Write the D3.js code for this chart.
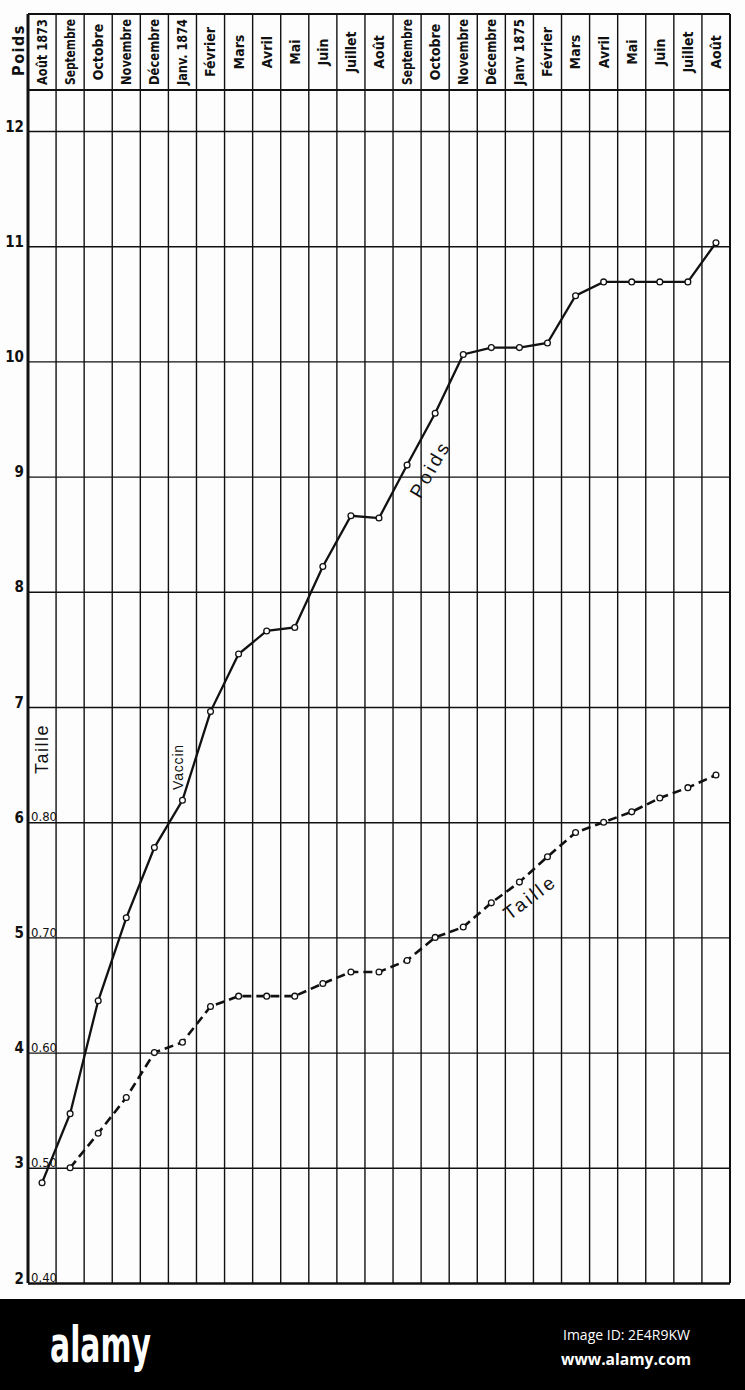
<!DOCTYPE html>
<html>
<head>
<meta charset="utf-8">
<script src="https://cdn.jsdelivr.net/npm/d3@7"></script>
<style>
  body { margin: 0; background: #fff; }
  svg { display: block; }
</style>
</head>
<body>
<div id="chart"></div>
<script>
// ---- DATA ----
const months = ["Août 1873", "Septembre", "Octobre", "Novembre", "Décembre", "Janv. 1874",
  "Février", "Mars", "Avril", "Mai", "Juin", "Juillet", "Août", "Septembre", "Octobre",
  "Novembre", "Décembre", "Janv 1875", "Février", "Mars", "Avril", "Mai", "Juin", "Juillet", "Août"];

// weight (kg), one value per month
const poids = [2.87, 3.47, 4.45, 5.17, 5.78, 6.19, 6.96, 7.46, 7.66, 7.69, 8.22, 8.66, 8.64,
  9.10, 9.55, 10.06, 10.12, 10.12, 10.16, 10.57, 10.69, 10.69, 10.69, 10.69, 11.03];

// height (m), starts in Septembre 1873
const taille = [null, 0.500, 0.530, 0.561, 0.600, 0.609, 0.640, 0.649, 0.649, 0.649, 0.660,
  0.670, 0.670, 0.680, 0.700, 0.709, 0.730, 0.748, 0.770, 0.791, 0.800, 0.809, 0.821, 0.830, 0.841];

const poidsTicks = [2, 3, 4, 5, 6, 7, 8, 9, 10, 11, 12];
const tailleTicks = [0.40, 0.50, 0.60, 0.70, 0.80];

// ---- LAYOUT ----
const width = 745, height = 1390;
const left = 28, right = 730;
const headerTop = 14, headerBottom = 90;
const plotTop = 131, plotBottom = 1283;
const narrow = "'DejaVu Sans Condensed', 'Liberation Sans Narrow', sans-serif";

const svg = d3.select("#chart").append("svg")
  .attr("width", width)
  .attr("height", height)
  .style("background", "#fdfdfd");

// ---- SCALES ----
const x = d3.scaleBand()
  .domain(d3.range(months.length))
  .range([left, right])
  .padding(0);

const y = d3.scaleLinear().domain([2, 12]).range([plotBottom, plotTop]);
const yT = d3.scaleLinear().domain([0.40, 1.40]).range([plotBottom, plotTop]);

const cx = i => x(i) + x.bandwidth() / 2;

// ---- GRID: vertical month lines ----
const bounds = months.map((m, i) => x(i)).concat([x.range()[1]]);
svg.append("g").selectAll("line")
  .data(bounds)
  .enter().append("line")
  .attr("x1", d => d).attr("x2", d => d)
  .attr("y1", headerTop).attr("y2", plotBottom)
  .attr("stroke", "#111")
  .attr("stroke-width", (d, i) => i === 0 ? 3 : (i === bounds.length - 1 ? 2 : 1.4));

// header lines
[headerTop, headerBottom].forEach(v => {
  svg.append("line")
    .attr("x1", left).attr("x2", right)
    .attr("y1", v).attr("y2", v)
    .attr("stroke", "#111").attr("stroke-width", 2);
});

// ---- AXES ----
const yAxis = svg.append("g")
  .attr("transform", `translate(${left},0)`)
  .call(d3.axisLeft(y).tickValues(poidsTicks).tickFormat(d3.format("d"))
    .tickSizeInner(-(right - left)).tickSizeOuter(0).tickPadding(4));
yAxis.select(".domain").remove();
yAxis.selectAll(".tick line")
  .attr("stroke", "#111")
  .attr("stroke-width", d => d === 2 ? 2.5 : 1.4);
yAxis.selectAll(".tick text")
  .attr("dy", "0em")
  .attr("fill", "#111")
  .style("font-family", narrow)
  .style("font-weight", "bold")
  .style("font-size", "15px");

const tAxis = svg.append("g")
  .attr("transform", `translate(${left + 2},0)`)
  .call(d3.axisRight(yT).tickValues(tailleTicks).tickFormat(d3.format(".2f"))
    .tickSize(0).tickPadding(1));
tAxis.select(".domain").remove();
tAxis.selectAll(".tick text")
  .attr("dy", "-0.1em")
  .attr("fill", "#111")
  .style("font-family", narrow)
  .style("font-size", "13px");

const xAxis = svg.append("g")
  .attr("transform", `translate(0,${headerBottom})`)
  .call(d3.axisTop(x).tickFormat(i => months[i]).tickSize(0));
xAxis.select(".domain").remove();
xAxis.selectAll(".tick text")
  .attr("x", 0).attr("y", 0)
  .attr("dy", "0.35em")
  .attr("transform", `translate(0,${(headerTop - headerBottom) / 2}) rotate(-90)`)
  .attr("text-anchor", "middle")
  .attr("fill", "#111")
  .style("font-family", narrow)
  .style("font-weight", "bold")
  .style("font-size", "14px")
  .each(function () {
    // keep long month names inside the header cell
    if (this.getComputedTextLength() > 66) {
      d3.select(this).attr("textLength", 66).attr("lengthAdjust", "spacingAndGlyphs");
    }
  });

// ---- LINES ----
const poidsLine = d3.line()
  .x((d, i) => cx(i))
  .y(d => y(d));

svg.append("path")
  .datum(poids)
  .attr("d", poidsLine)
  .attr("fill", "none")
  .attr("stroke", "#111")
  .attr("stroke-width", 2.3);

const tailleLine = d3.line()
  .defined(d => d !== null)
  .x((d, i) => cx(i))
  .y(d => yT(d));

svg.append("path")
  .datum(taille)
  .attr("d", tailleLine)
  .attr("fill", "none")
  .attr("stroke", "#111")
  .attr("stroke-width", 2.6)
  .attr("stroke-dasharray", "9,5");

// ---- POINTS ----
svg.append("g").selectAll("circle")
  .data(poids)
  .enter().append("circle")
  .attr("cx", (d, i) => cx(i))
  .attr("cy", d => y(d))
  .attr("r", 2.9)
  .attr("fill", "#fff")
  .attr("stroke", "#111")
  .attr("stroke-width", 1.3);

svg.append("g").selectAll("circle")
  .data(taille.map((v, i) => ({ v, i })).filter(d => d.v !== null))
  .enter().append("circle")
  .attr("cx", d => cx(d.i))
  .attr("cy", d => yT(d.v))
  .attr("r", 2.9)
  .attr("fill", "#fff")
  .attr("stroke", "#111")
  .attr("stroke-width", 1.3);

// ---- LABELS ----
function label(txt, px, py, angle, size, opts = {}) {
  svg.append("text")
    .attr("transform", `translate(${px},${py}) rotate(${angle})`)
    .attr("text-anchor", "middle")
    .attr("dy", "0.35em")
    .attr("fill", "#111")
    .style("font-family", opts.family || "'Liberation Sans', Arial, sans-serif")
    .style("font-weight", opts.weight || "normal")
    .style("letter-spacing", (opts.spacing || 0) + "px")
    .style("font-size", size + "px")
    .text(txt);
}

label("Poids", 18, 50, -90, 16, { family: narrow, weight: "bold", spacing: 1.5 });
label("Taille", 42, 749, -90, 18, { spacing: 1.5 });
label("Vaccin", 178, 767, -90, 14, { spacing: 0.8 });
label("Poids", 430, 469, -60, 19, { spacing: 3 });
label("Taille", 530, 897, -37, 19, { spacing: 3 });

// ---- FOOTER BAND ----
svg.append("rect")
  .attr("x", 0).attr("y", 1299)
  .attr("width", width).attr("height", height - 1299)
  .attr("fill", "#000");

svg.append("text")
  .attr("x", 50).attr("y", 1362)
  .attr("textLength", 101).attr("lengthAdjust", "spacingAndGlyphs")
  .attr("fill", "#fff")
  .style("font-family", narrow).style("font-weight", "bold").style("font-size", "50px")
  .text("alamy");

svg.append("text")
  .attr("x", 563).attr("y", 1340)
  .attr("textLength", 127).attr("lengthAdjust", "spacingAndGlyphs")
  .attr("fill", "#fff")
  .style("font-family", "'Open Sans', sans-serif").style("font-size", "14px")
  .text("Image ID: 2E4R9KW");

svg.append("text")
  .attr("x", 561).attr("y", 1365)
  .attr("textLength", 130).attr("lengthAdjust", "spacingAndGlyphs")
  .attr("fill", "#fff")
  .style("font-family", "'Open Sans', sans-serif").style("font-weight", "bold").style("font-size", "16px")
  .text("www.alamy.com");
</script>
</body>
</html>
